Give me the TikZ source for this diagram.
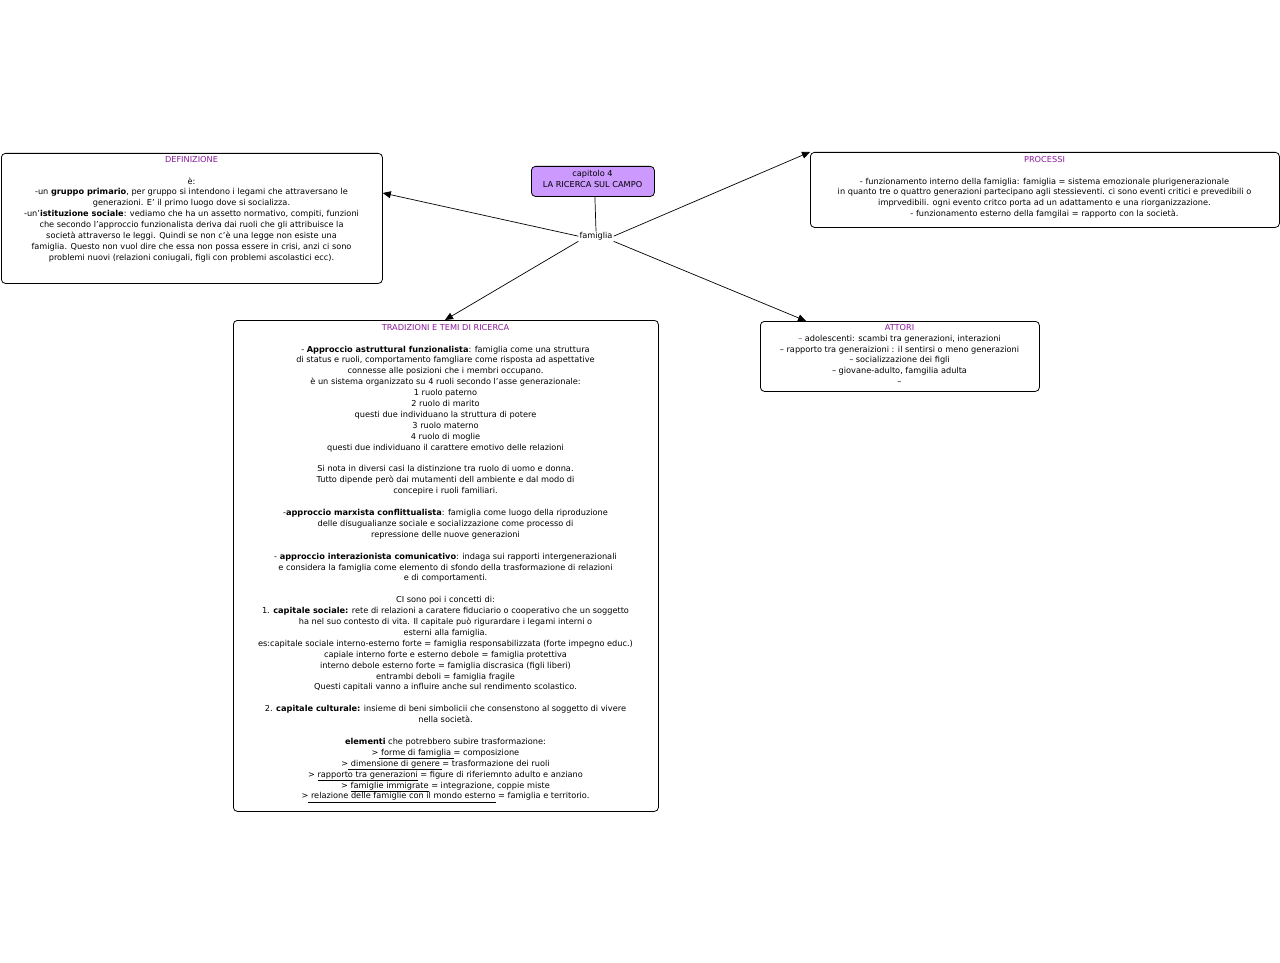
\documentclass[tikz,border=0pt]{standalone}
\usepackage{fontspec}
\setmainfont{DejaVu Sans}
\definecolor{ttl}{HTML}{8A1A9B}
\definecolor{capfill}{HTML}{CC99FF}
\usetikzlibrary{arrows.meta}
\begin{document}
\begin{tikzpicture}[x=1pt,y=-1pt,
  box/.style={draw,rounded corners=4pt,line width=0.8pt,anchor=north west,inner sep=0pt},
  txt/.style={anchor=north,align=center,inner sep=0pt,font=\fontsize{8.2}{10.9}\selectfont},
  arr/.style={-{Triangle[length=8pt,width=7pt]},line width=0.7pt}]
\useasboundingbox (0,0) rectangle (1280,963);
\node[box,minimum width=381pt,minimum height=130pt] (def) at (1,153) {};
\node[box,minimum width=469pt,minimum height=75pt] (proc) at (810,152) {};
\node[box,minimum width=425pt,minimum height=491pt] (trad) at (233,320) {};
\node[box,minimum width=279pt,minimum height=70pt] (att) at (760,321) {};
\node[box,fill=capfill,minimum width=123pt,minimum height=30pt] (cap) at (531,166) {};
\node[txt] (capt) at (592.5,170) {capitolo 4\\LA RICERCA SUL CAMPO};
\node[txt,fill=white,inner sep=1pt] (fam) at (596,231) {famiglia};

\node[txt] (deft) at (191.5,156) {\textcolor{ttl}{DEFINIZIONE}\\~\\è:\\
-un \textbf{gruppo primario}, per gruppo si intendono i legami che attraversano le\\
generazioni. E' il primo luogo dove si socializza.\\
-un'\textbf{istituzione sociale}: vediamo che ha un assetto normativo, compiti, funzioni\\
che secondo l'approccio funzionalista deriva dai ruoli che gli attribuisce la\\
società attraverso le leggi. Quindi se non c'è una legge non esiste una\\
famiglia. Questo non vuol dire che essa non possa essere in crisi, anzi ci sono\\
problemi nuovi (relazioni coniugali, figli con problemi ascolastici ecc).};

\node[txt] (proct) at (1044.5,156) {\textcolor{ttl}{PROCESSI}\\~\\
- funzionamento interno della famiglia: famiglia = sistema emozionale plurigenerazionale\\
in quanto tre o quattro generazioni partecipano agli stessieventi. ci sono eventi critici e prevedibili o\\
imprvedibili. ogni evento critco porta ad un adattamento e una riorganizzazione.\\
- funzionamento esterno della famgilai = rapporto con la società.};

\node[txt] (attt) at (899.5,324) {\textcolor{ttl}{ATTORI}\\
\textcolor{ttl}{--} adolescenti: scambi tra generazioni, interazioni\\
-- rapporto tra generaizioni : il sentirsi o meno generazioni\\
-- socializzazione dei figli\\
-- giovane-adulto, famgilia adulta\\
--};

\node[txt] (tradt) at (445.5,324) {\textcolor{ttl}{TRADIZIONI E TEMI DI RICERCA}\\~\\
- \textbf{Approccio astruttural funzionalista}: famiglia come una struttura\\
di status e ruoli, comportamento famgliare come risposta ad aspettative\\
connesse alle posizioni che i membri occupano.\\
è un sistema organizzato su 4 ruoli secondo l'asse generazionale:\\
1 ruolo paterno\\
2 ruolo di marito\\
questi due individuano la struttura di potere\\
3 ruolo materno\\
4 ruolo di moglie\\
questi due individuano il carattere emotivo delle relazioni\\~\\
Si nota in diversi casi la distinzione tra ruolo di uomo e donna.\\
Tutto dipende però dai mutamenti dell ambiente e dal modo di\\
concepire i ruoli familiari.\\~\\
-\textbf{approccio marxista conflittualista}: famiglia come luogo della riproduzione\\
delle disugualianze sociale e socializzazione come processo di\\
repressione delle nuove generazioni\\~\\
- \textbf{approccio interazionista comunicativo}: indaga sui rapporti intergenerazionali\\
e considera la famiglia come elemento di sfondo della trasformazione di relazioni\\
e di comportamenti.\\~\\
CI sono poi i concetti di:\\
1. \textbf{capitale sociale:} rete di relazioni a caratere fiduciario o cooperativo che un soggetto\\
ha nel suo contesto di vita. Il capitale può rigurardare i legami interni o\\
esterni alla famiglia.\\
es:capitale sociale interno-esterno forte = famiglia responsabilizzata (forte impegno educ.)\\
capiale interno forte e esterno debole = famiglia protettiva\\
interno debole esterno forte = famiglia discrasica (figli liberi)\\
entrambi deboli = famiglia fragile\\
Questi capitali vanno a influire anche sul rendimento scolastico.\\~\\
2. \textbf{capitale culturale:} insieme di beni simbolicii che consenstono al soggetto di vivere\\
nella società.\\~\\
\textbf{elementi} che potrebbero subire trasformazione:\\
>\underline{ forme di famiglia }= composizione\\
>\underline{ dimensione di genere }= trasformazione dei ruoli\\
> \underline{rapporto tra generazioni} = figure di riferiemnto adulto e anziano\\
> \underline{famiglie immigrate} = integrazione, coppie miste\\
>\underline{ relazione delle famiglie con il mondo esterno} = famiglia e territorio.};

\draw[line width=0.7pt] (cap.south) ++(2,0) coordinate (c1) -- (fam.north);
\draw[arr] (fam.west) -- (def.east |- 0,193);
\draw[arr] (fam.east) -- (proc.north west);
\draw[arr] (fam.south west) -- (445,320) coordinate (t1);
\draw[arr] (fam.south east) -- (806,321) coordinate (a1);
\end{tikzpicture}
\end{document}
